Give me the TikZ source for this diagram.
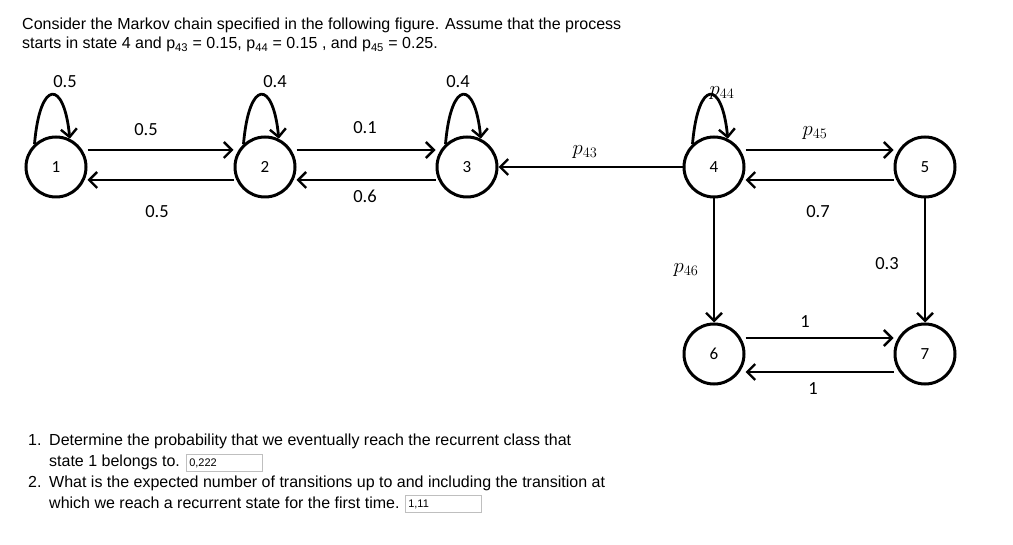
\documentclass[tikz,border=0pt]{standalone}
\usepackage{fontspec}
\setmainfont{Liberation Sans}
\newfontfamily\calib{Carlito}
\usetikzlibrary{arrows.meta}
\begin{document}
\begin{tikzpicture}[x=1pt,y=-1pt,
  st/.style={circle,draw,line width=3pt,minimum size=60pt,inner sep=0pt,font=\calib\fontsize{17}{17}\selectfont},
  tr/.style={line width=2.8pt,-{Straight Barb[length=8pt,width=16pt,line width=2.4pt]}},
  lb/.style={font=\calib\fontsize{18.5}{18.5}\selectfont},
  pl/.style={font=\fontsize{21}{21}\selectfont},
  qt/.style={anchor=base west,font=\fontsize{16}{16}\selectfont,inner sep=0pt},
  ans/.style={draw=black!25,line width=0.6pt,anchor=west,minimum width=76pt,minimum height=17pt,inner sep=2pt,font=\fontsize{11}{11}\selectfont,text width=70pt}]
\useasboundingbox (0,0) rectangle (1013,545);
\node[qt] (t1) at (22,30) {Consider the Markov chain specified in the following figure. Assume that the process};
\node[qt] (t2) at (22,49) {starts in state 4 and p\textsubscript{43} = 0.15, p\textsubscript{44} = 0.15 , and p\textsubscript{45} = 0.25.};
\node[st] (n1) at (56,167) {1};
\node[st] (n2) at (265,167) {2};
\node[st] (n3) at (467,167) {3};
\node[st] (n4) at (714,167) {4};
\node[st] (n5) at (925,167) {5};
\node[st] (n6) at (714,354) {6};
\node[st] (n7) at (925,354) {7};
\foreach \n in {n1,n2,n3,n4}
  \draw[tr] (\n.133) .. controls ([shift={(-16,-88)}]\n.center) and ([shift={(8,-88)}]\n.center) .. (\n.64);
\draw[tr] ([yshift=17]n1.east) -- ([yshift=17]n2.west);
\draw[tr] ([yshift=-13]n2.west) -- ([yshift=-13]n1.east);
\draw[tr] ([yshift=17]n2.east) -- ([yshift=17]n3.west);
\draw[tr] ([yshift=-13]n3.west) -- ([yshift=-13]n2.east);
\draw[tr] (n4.west) -- (n3.east);
\draw[tr] ([yshift=17]n4.east) -- ([yshift=17]n5.west);
\draw[tr] ([yshift=-13]n5.west) -- ([yshift=-13]n4.east);
\draw[tr] (n4) -- (n6);
\draw[tr] (n5) -- (n7);
\draw[tr] ([yshift=16]n6.east) -- ([yshift=16]n7.west);
\draw[tr] ([yshift=-18]n7.west) -- ([yshift=-18]n6.east);
\node[lb] (l1) at (65,82) {0.5};
\node[lb] (l2) at (275,82) {0.4};
\node[lb] (l3) at (458,82) {0.4};
\node[lb] (l4) at (146,130) {0.5};
\node[lb] (l5) at (157,212) {0.5};
\node[lb] (l6) at (365,128) {0.1};
\node[lb] (l7) at (365,196) {0.6};
\node[pl] (l8) at (585,152) {$p_{43}$};
\node[pl] (l9) at (722,93) {$p_{44}$};
\node[pl] (l10) at (815,133) {$p_{45}$};
\node[lb] (l11) at (818,212) {0.7};
\node[pl] (l12) at (686,270) {$p_{46}$};
\node[lb] (l13) at (887,264) {0.3};
\node[lb] (l14) at (805,322) {1};
\node[lb] (l15) at (813,389) {1};
\node[qt] (q1) at (28,446) {1.};
\node[qt] (q1a) at (49,446) {Determine the probability that we eventually reach the recurrent class that};
\node[qt] (q1b) at (49,467) {state 1 belongs to.};
\node[ans] (a1) at (186,463) {0,222};
\node[qt] (q2) at (28,488) {2.};
\node[qt] (q2a) at (49,488) {What is the expected number of transitions up to and including the transition at};
\node[qt] (q2b) at (49,508) {which we reach a recurrent state for the first time.};
\node[ans] (a2) at (405,504) {1,11};
\end{tikzpicture}
\end{document}
